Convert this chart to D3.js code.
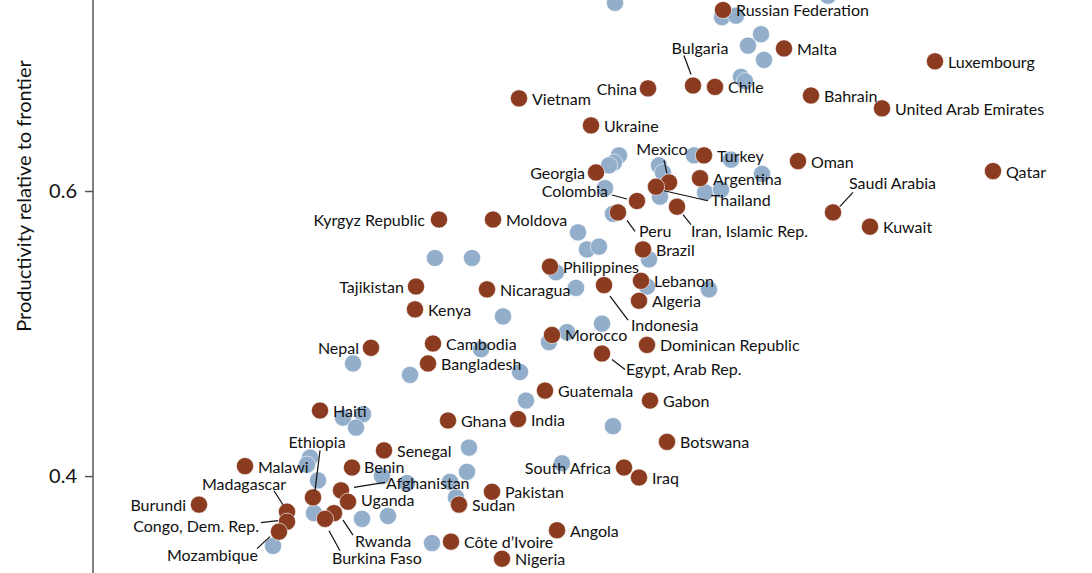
<!DOCTYPE html>
<html>
<head>
<meta charset="utf-8">
<script src="https://cdn.jsdelivr.net/npm/d3@7"></script>
<style>
  html, body { margin: 0; padding: 0; background: #fff; }
  svg { display: block; }
  text { font-family: Lato, "Open Sans", sans-serif; fill: #111; }
</style>
</head>
<body>
<svg id="chart" width="1092" height="573"></svg>
<script>
// ---------- data ----------
// highlighted (labelled) economies: name, x (log GDP per capita), productivity relative to frontier
const labelledNames = ["Russian Federation","Malta","Luxembourg","Bulgaria","Chile","China","Bahrain","Vietnam","United Arab Emirates","Ukraine","Turkey","Oman","Qatar","Georgia","Argentina","Mexico","Thailand","Colombia","Iran, Islamic Rep.","Saudi Arabia","Peru","Kyrgyz Republic","Moldova","Kuwait","Brazil","Philippines","Lebanon","Indonesia","Tajikistan","Nicaragua","Algeria","Kenya","Morocco","Cambodia","Dominican Republic","Nepal","Egypt, Arab Rep.","Bangladesh","Guatemala","Gabon","Haiti","India","Ghana","Botswana","Senegal","Malawi","Benin","South Africa","Iraq","Afghanistan","Pakistan","Ethiopia","Uganda","Burundi","Sudan","Madagascar","Rwanda","Burkina Faso","Congo, Dem. Rep.","Angola","Mozambique","Côte d’Ivoire","Nigeria"];
const labelledX = [9.65,9.955,10.71,9.50,9.61,9.275,10.09,8.63,10.445,8.99,9.555,10.025,11.0,9.015,9.535,9.38,9.315,9.22,9.42,10.20,9.125,8.23,8.50,10.385,9.25,8.785,9.24,9.055,8.115,8.47,9.23,8.11,8.795,8.20,9.27,7.89,9.045,8.175,8.76,9.285,7.635,8.625,8.275,9.37,7.955,7.26,7.795,9.155,9.23,7.74,8.495,7.60,7.775,7.03,8.33,7.47,7.705,7.66,7.47,8.82,7.43,8.29,8.545];
const labelledY = [0.727,0.700,0.691,0.674,0.673,0.672,0.667,0.665,0.658,0.646,0.625,0.621,0.614,0.613,0.609,0.606,0.603,0.593,0.589,0.585,0.585,0.580,0.580,0.575,0.559,0.547,0.537,0.534,0.533,0.531,0.523,0.517,0.499,0.493,0.492,0.490,0.486,0.479,0.460,0.453,0.446,0.440,0.439,0.424,0.418,0.407,0.406,0.406,0.399,0.390,0.389,0.385,0.382,0.380,0.380,0.375,0.374,0.370,0.368,0.362,0.361,0.354,0.342];

// other economies (unlabelled)
const otherX = [9.11,10.175,9.645,9.715,9.84,9.775,9.855,9.74,9.76,9.13,9.105,9.08,9.505,9.69,9.33,9.35,9.845,9.06,9.56,9.64,9.335,9.10,8.925,8.97,9.03,8.21,8.395,9.28,8.815,8.915,9.27,9.58,8.55,9.045,8.87,8.78,8.44,7.80,8.085,8.635,8.665,7.75,7.85,7.815,9.10,8.38,7.585,7.57,8.845,8.37,7.945,7.625,8.285,8.07,8.315,7.605,7.845,7.975,8.195,7.40];
const otherY = [0.732,0.737,0.722,0.723,0.710,0.702,0.692,0.680,0.677,0.625,0.620,0.618,0.625,0.622,0.618,0.613,0.612,0.602,0.599,0.601,0.596,0.584,0.571,0.559,0.561,0.553,0.553,0.552,0.543,0.532,0.533,0.531,0.512,0.507,0.501,0.494,0.489,0.479,0.471,0.473,0.453,0.441,0.4435,0.434,0.435,0.420,0.413,0.408,0.409,0.403,0.400,0.397,0.396,0.395,0.385,0.374,0.370,0.372,0.353,0.351];

const yTicks = [0.4, 0.6];
const yTitle = "Productivity relative to frontier";

// ---------- label placement (annotation layout, px offsets from the dot) ----------
const labelLayout = {
  "China": {dx:-11, anchor:"end"},
  "Georgia": {dx:-11, anchor:"end"},
  "Kyrgyz Republic": {dx:-14, anchor:"end"},
  "Tajikistan": {dx:-12, anchor:"end"},
  "Nepal": {dx:-12, anchor:"end"},
  "Burundi": {dx:-13, anchor:"end"},
  "South Africa": {dx:-13, anchor:"end"},
  "Colombia": {dx:-29, dy:-10, anchor:"end", leader:[-25,-6,-10,-2]},
  "Congo, Dem. Rep.": {dx:-28, dy:4, anchor:"end", leader:[-26,1,-9,-1]},
  "Mozambique": {dx:-21, dy:23, anchor:"end", leader:[-22,17,-9,5]},
  "Madagascar": {dx:-1, dy:-28, anchor:"end", leader:[-13,-21,-4,-7]},
  "Ethiopia": {dx:4, dy:-56, anchor:"middle", leader:[7,-47,2,-7]},
  "Bulgaria": {dx:7, dy:-38, anchor:"middle", leader:[-9,-30,-2,-11]},
  "Mexico": {dx:-7, dy:-34, anchor:"middle", leader:[-5,-22,-2,-9]},
  "Thailand": {dx:55, dy:13, leader:[8,4,52,14]},
  "Peru": {dx:21, dy:18, leader:[9,8,17,19]},
  "Iran, Islamic Rep.": {dx:14, dy:24, leader:[6,8,14,18]},
  "Saudi Arabia": {dx:16, dy:-30, leader:[20,-20,7,-6]},
  "Indonesia": {dx:27, dy:39, leader:[6,11,24,35]},
  "Egypt, Arab Rep.": {dx:24, dy:15, leader:[10,6,23,16]},
  "Afghanistan": {dx:45, dy:-8, leader:[13,-3,44,-8]},
  "Uganda": {dx:13, dy:-2},
  "Rwanda": {dx:21, dy:27, leader:[9,7,19,22]},
  "Burkina Faso": {dx:7, dy:39, leader:[4,12,15,32]},
  "Benin": {dx:12, dy:-1}
};

// ---------- chart ----------
const W = 1092, H = 573;
const svg = d3.select("#chart");
const x = d3.scaleLinear().domain([6.5, 11.5]).range([93, 1093]);
const y = d3.scaleLinear().domain([0.332, 0.734]).range([H, 0]);

const BLUE = "#92aecb", BROWN = "#8b3c20";
const R = 8.6;

// axis
const axis = d3.axisLeft(y).tickValues(yTicks).tickSize(8).tickPadding(8).tickFormat(d3.format(".1f"));
const gAxis = svg.append("g").attr("transform", `translate(${x(6.5)},0)`).call(axis);
gAxis.select(".domain").remove();
gAxis.append("line").attr("y1", 0).attr("y2", H).attr("stroke", "#555").attr("stroke-width", 1.5);
gAxis.selectAll(".tick line").attr("stroke", "#555").attr("stroke-width", 1.5);
gAxis.selectAll(".tick text").attr("font-family", "Lato, sans-serif").attr("font-size", 20).attr("fill", "#111");

svg.append("text")
  .attr("transform", `translate(23,${196}) rotate(-90)`)
  .attr("text-anchor", "middle").attr("dominant-baseline", "central")
  .attr("font-size", 20).text(yTitle);

// other dots
const others = otherX.map((v, i) => ({x: v, y: otherY[i]}));
svg.append("g").selectAll("circle").data(others).join("circle")
  .attr("cx", d => x(d.x)).attr("cy", d => y(d.y)).attr("r", R)
  .attr("fill", BLUE).attr("stroke", "#fff").attr("stroke-width", 0.6);

// labelled dots
const labelled = labelledNames.map((n, i) => ({name: n, x: labelledX[i], y: labelledY[i]}));
svg.append("g").selectAll("circle").data(labelled).join("circle")
  .attr("cx", d => x(d.x)).attr("cy", d => y(d.y)).attr("r", R)
  .attr("fill", BROWN).attr("stroke", "#fff").attr("stroke-width", 0.6);

// leaders
const withLeader = labelled.filter(d => labelLayout[d.name] && labelLayout[d.name].leader);
svg.append("g").selectAll("line").data(withLeader).join("line")
  .attr("x1", d => x(d.x) + labelLayout[d.name].leader[0])
  .attr("y1", d => y(d.y) + labelLayout[d.name].leader[1])
  .attr("x2", d => x(d.x) + labelLayout[d.name].leader[2])
  .attr("y2", d => y(d.y) + labelLayout[d.name].leader[3])
  .attr("stroke", "#111").attr("stroke-width", 1.2);

// labels
svg.append("g").selectAll("text").data(labelled).join("text")
  .attr("x", d => x(d.x) + ((labelLayout[d.name] && labelLayout[d.name].dx !== undefined) ? labelLayout[d.name].dx : 13))
  .attr("y", d => y(d.y) + ((labelLayout[d.name] && labelLayout[d.name].dy !== undefined) ? labelLayout[d.name].dy : 0))
  .attr("text-anchor", d => (labelLayout[d.name] && labelLayout[d.name].anchor) || "start")
  .attr("dominant-baseline", "central")
  .attr("font-size", 16)
  .text(d => d.name);
</script>
</body>
</html>
